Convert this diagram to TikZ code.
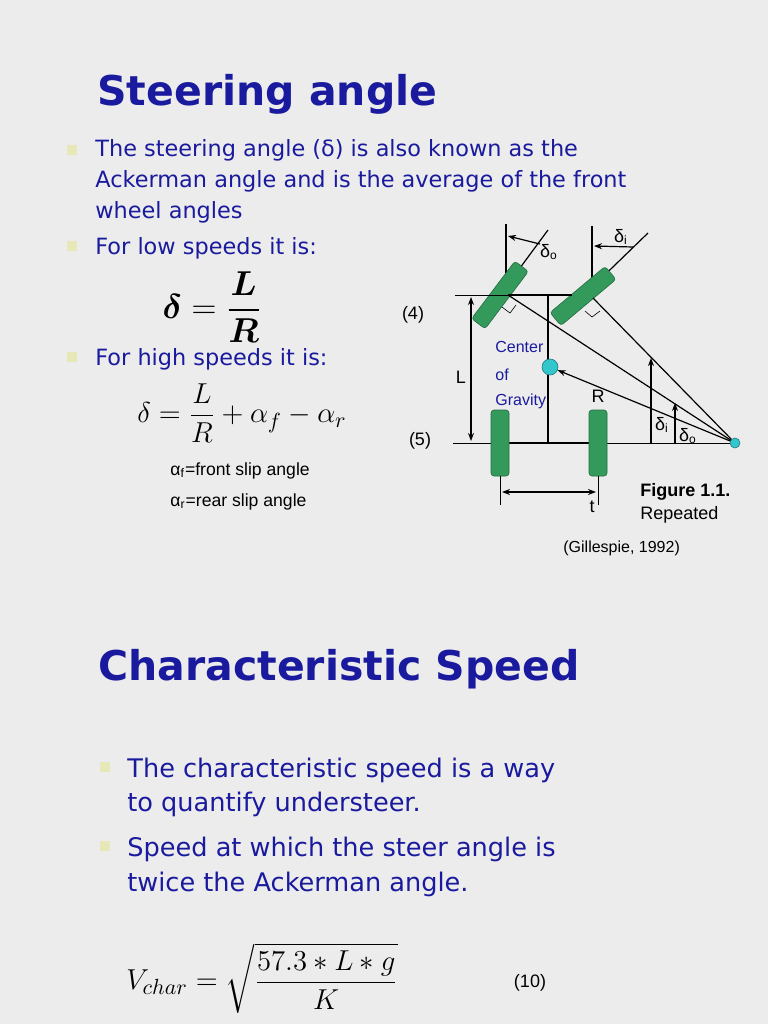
\documentclass[tikz,border=0pt]{standalone}
\usepackage{fontspec}
\setmainfont{DejaVu Sans}
\newfontfamily\arial{Liberation Sans}
\usepackage{amsmath}
\usetikzlibrary{arrows.meta}
\definecolor{bg}{HTML}{ECECEC}
\definecolor{tblue}{HTML}{1A1A9E}
\definecolor{bul}{HTML}{E6E8B8}
\definecolor{wgreen}{HTML}{349A5C}
\definecolor{cg}{HTML}{33C6CC}
\begin{document}
\begin{tikzpicture}[x=0.5pt,y=-0.5pt,
  title/.style={anchor=base west,text=tblue,font=\fontsize{20.5}{24}\selectfont\bfseries,inner sep=0},
  btxt/.style={anchor=base west,text=tblue,font=\fontsize{11.2}{15.5}\selectfont,inner sep=0},
  btxtb/.style={anchor=base west,text=tblue,font=\fontsize{12.8}{17.5}\selectfont,inner sep=0},
  bsq/.style={fill=bul,draw=none,minimum size=5pt,inner sep=0},
  lbl/.style={font=\arial\fontsize{8}{9}\selectfont,inner sep=0},
  wheel/.style={fill=wgreen,draw=wgreen!70!black,line width=0.3pt,rounded corners=1.5pt,minimum width=36pt,minimum height=8.5pt,inner sep=0},
  rwheel/.style={fill=wgreen,draw=wgreen!70!black,line width=0.3pt,rounded corners=1.5pt,minimum width=9pt,minimum height=33pt,inner sep=0},
  ln/.style={line width=0.6pt},
  arr/.style={line width=0.6pt,-{Stealth[length=4pt,width=3pt]}},
  darr/.style={line width=0.6pt,{Stealth[length=4pt,width=3pt]}-{Stealth[length=4pt,width=3pt]}}]
\fill[bg] (0,0) rectangle (768,1024);
\useasboundingbox (0,0) rectangle (768,1024);
% Section 1
\node[title] (t1) at (97,105) {Steering angle};
\node[bsq] (b1) at (72,150) {};
\node[btxt] (p1a) at (95,156) {The steering angle (δ) is also known as the};
\node[btxt] (p1b) at (95,187) {Ackerman angle and is the average of the front};
\node[btxt] (p1c) at (95,218) {wheel angles};
\node[bsq] (b2) at (72,246) {};
\node[btxt] (p2) at (95,254) {For low speeds it is:};
\node[font=\fontsize{19}{22}\selectfont,inner sep=0] (e4) at (212,307) {$\boldsymbol{\delta} = \dfrac{\boldsymbol{L}}{\boldsymbol{R}}$};
\node[lbl,font=\arial\fontsize{9}{10}\selectfont] (n4) at (413,315) {(4)};
\node[bsq] (b3) at (72,357) {};
\node[btxt] (p3) at (95,365) {For high speeds it is:};
\node[font=\fontsize{15.5}{18}\selectfont,inner sep=0] (e5) at (242,413) {$\delta = \dfrac{L}{R} + \alpha_f - \alpha_r$};
\node[lbl,font=\arial\fontsize{9}{10}\selectfont] (n5) at (420,441) {(5)};
\node[lbl,anchor=base west,font=\arial\fontsize{8.8}{10}\selectfont] (af) at (170,475) {α\textsubscript{f}=front slip angle};
\node[lbl,anchor=base west,font=\arial\fontsize{8.8}{10}\selectfont] (ar) at (170,506) {α\textsubscript{r}=rear slip angle};
% Diagram
\coordinate (FL) at (500,295);
\coordinate (FR) at (583,296);
\coordinate (O) at (735,443);
\draw[ln] (506,224) -- (506,283);
\draw[ln] (592,226) -- (592,288);
\draw[ln] (FL) -- (548,230);
\draw[ln] (FR) -- (648,233);
\draw[arr] (540,244) -- (508,236);
\draw[arr] (633,247) -- (594,246);
\node[wheel,rotate=53] (wfl) at (FL) {};
\node[wheel,rotate=40] (wfr) at (FR) {};
\draw[line width=0.3pt] (455,295) -- (508,295);
\draw[line width=1.3pt] (508,295) -- (572,295);
\draw[line width=1.3pt] (548,295) -- (548,443);
\draw[line width=1.3pt] (508,443) -- (598,443);
\draw[line width=0.4pt] (453,443) -- (O);
\draw[ln] (508,295) -- (O);
\draw[ln] (593,298) -- (O);
\draw[line width=0.3pt] (502,307) -- (510,313) -- (516,305);
\draw[line width=0.3pt] (585,311) -- (592,317) -- (600,311);
\node[circle,fill=cg,draw=cg!60!black,line width=0.3pt,minimum size=8pt,inner sep=0] (cgc) at (550,367) {};
\node[circle,fill=cg,draw=cg!60!black,line width=0.3pt,minimum size=5pt,inner sep=0] (oc) at (O) {};
\draw[arr] (oc) -- (cgc);
\node[rwheel] (wrl) at (500,443) {};
\node[rwheel] (wrr) at (598,443) {};
\draw[arr] (651,443) -- (651,358);
\draw[arr] (675,443) -- (675,403);
\draw[darr] (471,297) -- (471,441);
\draw[line width=0.3pt] (500,476) -- (500,505);
\draw[line width=0.3pt] (598,476) -- (598,505);
\draw[darr] (502,492) -- (596,492);
\node[lbl,font=\arial\fontsize{9}{10}\selectfont] (dO) at (549,252) {δ\textsubscript{o}};
\node[lbl,font=\arial\fontsize{9}{10}\selectfont] (dI) at (621,237) {δ\textsubscript{i}};
\node[lbl,font=\arial\fontsize{9}{10}\selectfont] (Ll) at (461,377) {L};
\node[lbl,anchor=west,text=tblue] (c1) at (495,347) {Center};
\node[lbl,anchor=west,text=tblue] (c2) at (495,375) {of};
\node[lbl,anchor=west,text=tblue] (c3) at (495,401) {Gravity};
\node[lbl,font=\arial\fontsize{9}{10}\selectfont] (Rl) at (598,396) {R};
\node[lbl,font=\arial\fontsize{9}{10}\selectfont] (dI2) at (662,425) {δ\textsubscript{i}};
\node[lbl,font=\arial\fontsize{9}{10}\selectfont] (dO2) at (688,436) {δ\textsubscript{o}};
\node[lbl,font=\arial\fontsize{9}{10}\selectfont] (tl) at (592,507) {t};
\node[lbl,anchor=west,font=\arial\fontsize{9}{10}\selectfont\bfseries] (f1) at (640,492) {Figure 1.1.};
\node[lbl,anchor=west,font=\arial\fontsize{9}{10}\selectfont] (f2) at (640,515) {Repeated};
\node[lbl,anchor=west] (gl) at (563,548) {(Gillespie, 1992)};
% Section 2
\node[title] (t2) at (98,680) {Characteristic Speed};
\node[bsq] (b4) at (105,767) {};
\node[btxtb] (p4a) at (127,777) {The characteristic speed is a way};
\node[btxtb] (p4b) at (127,811) {to quantify understeer.};
\node[bsq] (b5) at (105,846) {};
\node[btxtb] (p5a) at (127,856) {Speed at which the steer angle is};
\node[btxtb] (p5b) at (127,891) {twice the Ackerman angle.};
\node[font=\fontsize{15.5}{18}\selectfont,inner sep=0] (e10) at (262,978) {$V_{char} = \sqrt{\dfrac{57.3 * L * g}{K}}$};
\node[lbl,font=\arial\fontsize{9}{10}\selectfont] (n10) at (530,983) {(10)};
\end{tikzpicture}
\end{document}
